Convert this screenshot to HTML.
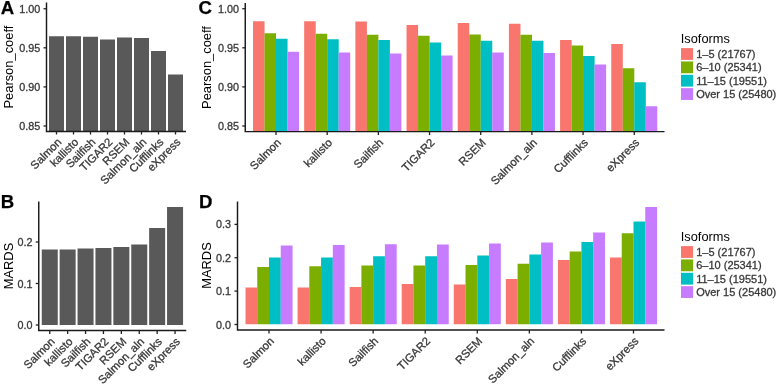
<!DOCTYPE html><html><head><meta charset="utf-8"><style>html,body{margin:0;padding:0;background:#fff;width:778px;height:384px;overflow:hidden}svg{display:block;font-family:"Liberation Sans",sans-serif;filter:blur(0.45px)}</style></head><body>
<svg width="778" height="384" viewBox="0 0 778 384">
<rect x="49" y="36.25" width="15" height="94.75" fill="#595959"/>
<rect x="66" y="36.25" width="15" height="94.75" fill="#595959"/>
<rect x="83" y="36.75" width="15" height="94.25" fill="#595959"/>
<rect x="100" y="39.5" width="15" height="91.5" fill="#595959"/>
<rect x="117" y="37.5" width="15" height="93.5" fill="#595959"/>
<rect x="134" y="38" width="15" height="93" fill="#595959"/>
<rect x="151" y="51" width="15" height="80" fill="#595959"/>
<rect x="168" y="74.5" width="15" height="56.5" fill="#595959"/>
<path d="M46.5 2.5V131.5H186" fill="none" stroke="#1a1a1a" stroke-width="1.45"/>
<path d="M43.5 8.75H46.5" stroke="#222" stroke-width="1.3"/>
<text x="40.3" y="13" text-anchor="end" font-size="10.8" fill="#383838" stroke="#383838" stroke-width="0.3">1.00</text>
<path d="M43.5 47.8H46.5" stroke="#222" stroke-width="1.3"/>
<text x="40.3" y="52" text-anchor="end" font-size="10.8" fill="#383838" stroke="#383838" stroke-width="0.3">0.95</text>
<path d="M43.5 86.9H46.5" stroke="#222" stroke-width="1.3"/>
<text x="40.3" y="91" text-anchor="end" font-size="10.8" fill="#383838" stroke="#383838" stroke-width="0.3">0.90</text>
<path d="M43.5 126H46.5" stroke="#222" stroke-width="1.3"/>
<text x="40.3" y="130" text-anchor="end" font-size="10.8" fill="#383838" stroke="#383838" stroke-width="0.3">0.85</text>
<path d="M56.5 131V134.5" stroke="#222" stroke-width="1.3"/>
<text transform="translate(62.2 142.8) rotate(-45)" text-anchor="end" font-size="11.3" fill="#383838" stroke="#383838" stroke-width="0.3">Salmon</text>
<path d="M73.5 131V134.5" stroke="#222" stroke-width="1.3"/>
<text transform="translate(79.2 142.8) rotate(-45)" text-anchor="end" font-size="11.3" fill="#383838" stroke="#383838" stroke-width="0.3">kallisto</text>
<path d="M90.5 131V134.5" stroke="#222" stroke-width="1.3"/>
<text transform="translate(96.2 142.8) rotate(-45)" text-anchor="end" font-size="11.3" fill="#383838" stroke="#383838" stroke-width="0.3">Sailfish</text>
<path d="M107.5 131V134.5" stroke="#222" stroke-width="1.3"/>
<text transform="translate(113.2 142.8) rotate(-45)" text-anchor="end" font-size="11.3" fill="#383838" stroke="#383838" stroke-width="0.3">TIGAR2</text>
<path d="M124.5 131V134.5" stroke="#222" stroke-width="1.3"/>
<text transform="translate(130.2 142.8) rotate(-45)" text-anchor="end" font-size="11.3" fill="#383838" stroke="#383838" stroke-width="0.3">RSEM</text>
<path d="M141.5 131V134.5" stroke="#222" stroke-width="1.3"/>
<text transform="translate(147.2 142.8) rotate(-45)" text-anchor="end" font-size="11.3" fill="#383838" stroke="#383838" stroke-width="0.3">Salmon_aln</text>
<path d="M158.5 131V134.5" stroke="#222" stroke-width="1.3"/>
<text transform="translate(164.2 142.8) rotate(-45)" text-anchor="end" font-size="11.3" fill="#383838" stroke="#383838" stroke-width="0.3">Cufflinks</text>
<path d="M175.5 131V134.5" stroke="#222" stroke-width="1.3"/>
<text transform="translate(181.2 142.8) rotate(-45)" text-anchor="end" font-size="11.3" fill="#383838" stroke="#383838" stroke-width="0.3">eXpress</text>
<text transform="translate(12.6 67.1) rotate(-90)" text-anchor="middle" font-size="12.9" fill="#000">Pearson_coeff</text>
<text x="0.8" y="13.6" font-size="18.6" font-weight="bold" fill="#000" stroke="#000" stroke-width="0.25">A</text>
<rect x="41.75" y="249.5" width="16" height="75.5" fill="#595959"/>
<rect x="59.65" y="249.5" width="16" height="75.5" fill="#595959"/>
<rect x="77.55" y="248.5" width="16" height="76.5" fill="#595959"/>
<rect x="95.45" y="248" width="16" height="77" fill="#595959"/>
<rect x="113.35" y="247" width="16" height="78" fill="#595959"/>
<rect x="131.25" y="244.5" width="16" height="80.5" fill="#595959"/>
<rect x="149.15" y="228" width="16" height="97" fill="#595959"/>
<rect x="167.05" y="207" width="16" height="118" fill="#595959"/>
<path d="M38.75 201.5V330.5H186.25" fill="none" stroke="#1a1a1a" stroke-width="1.45"/>
<path d="M35.75 242H38.75" stroke="#222" stroke-width="1.3"/>
<text x="32.6" y="246" text-anchor="end" font-size="10.8" fill="#383838" stroke="#383838" stroke-width="0.3">0.2</text>
<path d="M35.75 283.5H38.75" stroke="#222" stroke-width="1.3"/>
<text x="32.6" y="288" text-anchor="end" font-size="10.8" fill="#383838" stroke="#383838" stroke-width="0.3">0.1</text>
<path d="M35.75 325H38.75" stroke="#222" stroke-width="1.3"/>
<text x="32.6" y="329" text-anchor="end" font-size="10.8" fill="#383838" stroke="#383838" stroke-width="0.3">0.0</text>
<path d="M49.75 330.5V334" stroke="#222" stroke-width="1.3"/>
<text transform="translate(55.45 342.3) rotate(-45)" text-anchor="end" font-size="11.3" fill="#383838" stroke="#383838" stroke-width="0.3">Salmon</text>
<path d="M67.65 330.5V334" stroke="#222" stroke-width="1.3"/>
<text transform="translate(73.35 342.3) rotate(-45)" text-anchor="end" font-size="11.3" fill="#383838" stroke="#383838" stroke-width="0.3">kallisto</text>
<path d="M85.55 330.5V334" stroke="#222" stroke-width="1.3"/>
<text transform="translate(91.25 342.3) rotate(-45)" text-anchor="end" font-size="11.3" fill="#383838" stroke="#383838" stroke-width="0.3">Sailfish</text>
<path d="M103.45 330.5V334" stroke="#222" stroke-width="1.3"/>
<text transform="translate(109.15 342.3) rotate(-45)" text-anchor="end" font-size="11.3" fill="#383838" stroke="#383838" stroke-width="0.3">TIGAR2</text>
<path d="M121.35 330.5V334" stroke="#222" stroke-width="1.3"/>
<text transform="translate(127.05 342.3) rotate(-45)" text-anchor="end" font-size="11.3" fill="#383838" stroke="#383838" stroke-width="0.3">RSEM</text>
<path d="M139.25 330.5V334" stroke="#222" stroke-width="1.3"/>
<text transform="translate(144.95 342.3) rotate(-45)" text-anchor="end" font-size="11.3" fill="#383838" stroke="#383838" stroke-width="0.3">Salmon_aln</text>
<path d="M157.15 330.5V334" stroke="#222" stroke-width="1.3"/>
<text transform="translate(162.85 342.3) rotate(-45)" text-anchor="end" font-size="11.3" fill="#383838" stroke="#383838" stroke-width="0.3">Cufflinks</text>
<path d="M175.05 330.5V334" stroke="#222" stroke-width="1.3"/>
<text transform="translate(180.75 342.3) rotate(-45)" text-anchor="end" font-size="11.3" fill="#383838" stroke="#383838" stroke-width="0.3">eXpress</text>
<text transform="translate(12.6 266) rotate(-90)" text-anchor="middle" font-size="12.9" fill="#000">MARDS</text>
<text x="0.8" y="208.2" font-size="18.6" font-weight="bold" fill="#000" stroke="#000" stroke-width="0.25">B</text>
<rect x="253" y="21.25" width="11.55" height="110.25" fill="#F8766D"/>
<rect x="264.5" y="33.25" width="11.55" height="98.25" fill="#7CAE00"/>
<rect x="276" y="38.75" width="11.55" height="92.75" fill="#00BFC4"/>
<rect x="287.5" y="51.75" width="11.55" height="79.75" fill="#C77CFF"/>
<rect x="304.18" y="21.25" width="11.55" height="110.25" fill="#F8766D"/>
<rect x="315.68" y="33.75" width="11.55" height="97.75" fill="#7CAE00"/>
<rect x="327.18" y="39.25" width="11.55" height="92.25" fill="#00BFC4"/>
<rect x="338.68" y="52.5" width="11.55" height="79" fill="#C77CFF"/>
<rect x="355.36" y="21.5" width="11.55" height="110" fill="#F8766D"/>
<rect x="366.86" y="34.75" width="11.55" height="96.75" fill="#7CAE00"/>
<rect x="378.36" y="40" width="11.55" height="91.5" fill="#00BFC4"/>
<rect x="389.86" y="53.5" width="11.55" height="78" fill="#C77CFF"/>
<rect x="406.54" y="25" width="11.55" height="106.5" fill="#F8766D"/>
<rect x="418.04" y="35.75" width="11.55" height="95.75" fill="#7CAE00"/>
<rect x="429.54" y="42.5" width="11.55" height="89" fill="#00BFC4"/>
<rect x="441.04" y="55.5" width="11.55" height="76" fill="#C77CFF"/>
<rect x="457.72" y="23" width="11.55" height="108.5" fill="#F8766D"/>
<rect x="469.22" y="34.5" width="11.55" height="97" fill="#7CAE00"/>
<rect x="480.72" y="40.75" width="11.55" height="90.75" fill="#00BFC4"/>
<rect x="492.22" y="52.5" width="11.55" height="79" fill="#C77CFF"/>
<rect x="508.9" y="23.75" width="11.55" height="107.75" fill="#F8766D"/>
<rect x="520.4" y="34.75" width="11.55" height="96.75" fill="#7CAE00"/>
<rect x="531.9" y="40.75" width="11.55" height="90.75" fill="#00BFC4"/>
<rect x="543.4" y="53" width="11.55" height="78.5" fill="#C77CFF"/>
<rect x="560.08" y="40" width="11.55" height="91.5" fill="#F8766D"/>
<rect x="571.58" y="45.5" width="11.55" height="86" fill="#7CAE00"/>
<rect x="583.08" y="56" width="11.55" height="75.5" fill="#00BFC4"/>
<rect x="594.58" y="64.5" width="11.55" height="67" fill="#C77CFF"/>
<rect x="611.26" y="44" width="11.55" height="87.5" fill="#F8766D"/>
<rect x="622.76" y="68.25" width="11.55" height="63.25" fill="#7CAE00"/>
<rect x="634.26" y="82.25" width="11.55" height="49.25" fill="#00BFC4"/>
<rect x="645.76" y="106.25" width="11.55" height="25.25" fill="#C77CFF"/>
<path d="M245.25 3V131.6H664.5" fill="none" stroke="#1a1a1a" stroke-width="1.45"/>
<path d="M242.25 8.75H245.25" stroke="#222" stroke-width="1.3"/>
<text x="239" y="13" text-anchor="end" font-size="10.8" fill="#383838" stroke="#383838" stroke-width="0.3">1.00</text>
<path d="M242.25 47.8H245.25" stroke="#222" stroke-width="1.3"/>
<text x="239" y="52" text-anchor="end" font-size="10.8" fill="#383838" stroke="#383838" stroke-width="0.3">0.95</text>
<path d="M242.25 86.9H245.25" stroke="#222" stroke-width="1.3"/>
<text x="239" y="91" text-anchor="end" font-size="10.8" fill="#383838" stroke="#383838" stroke-width="0.3">0.90</text>
<path d="M242.25 126H245.25" stroke="#222" stroke-width="1.3"/>
<text x="239" y="130" text-anchor="end" font-size="10.8" fill="#383838" stroke="#383838" stroke-width="0.3">0.85</text>
<path d="M276 131.5V135" stroke="#222" stroke-width="1.3"/>
<text transform="translate(281.7 143.3) rotate(-45)" text-anchor="end" font-size="11.3" fill="#383838" stroke="#383838" stroke-width="0.3">Salmon</text>
<path d="M327.18 131.5V135" stroke="#222" stroke-width="1.3"/>
<text transform="translate(332.88 143.3) rotate(-45)" text-anchor="end" font-size="11.3" fill="#383838" stroke="#383838" stroke-width="0.3">kallisto</text>
<path d="M378.36 131.5V135" stroke="#222" stroke-width="1.3"/>
<text transform="translate(384.06 143.3) rotate(-45)" text-anchor="end" font-size="11.3" fill="#383838" stroke="#383838" stroke-width="0.3">Sailfish</text>
<path d="M429.54 131.5V135" stroke="#222" stroke-width="1.3"/>
<text transform="translate(435.24 143.3) rotate(-45)" text-anchor="end" font-size="11.3" fill="#383838" stroke="#383838" stroke-width="0.3">TIGAR2</text>
<path d="M480.72 131.5V135" stroke="#222" stroke-width="1.3"/>
<text transform="translate(486.42 143.3) rotate(-45)" text-anchor="end" font-size="11.3" fill="#383838" stroke="#383838" stroke-width="0.3">RSEM</text>
<path d="M531.9 131.5V135" stroke="#222" stroke-width="1.3"/>
<text transform="translate(537.6 143.3) rotate(-45)" text-anchor="end" font-size="11.3" fill="#383838" stroke="#383838" stroke-width="0.3">Salmon_aln</text>
<path d="M583.08 131.5V135" stroke="#222" stroke-width="1.3"/>
<text transform="translate(588.78 143.3) rotate(-45)" text-anchor="end" font-size="11.3" fill="#383838" stroke="#383838" stroke-width="0.3">Cufflinks</text>
<path d="M634.26 131.5V135" stroke="#222" stroke-width="1.3"/>
<text transform="translate(639.96 143.3) rotate(-45)" text-anchor="end" font-size="11.3" fill="#383838" stroke="#383838" stroke-width="0.3">eXpress</text>
<text transform="translate(210.6 67.5) rotate(-90)" text-anchor="middle" font-size="12.9" fill="#000">Pearson_coeff</text>
<text x="198.5" y="13.6" font-size="18.6" font-weight="bold" fill="#000" stroke="#000" stroke-width="0.25">C</text>
<text x="680.8" y="43" font-size="12.8" fill="#000">Isoforms</text>
<rect x="681" y="48.1" width="12.1" height="11.8" fill="#F8766D"/>
<text x="696.2" y="58" font-size="11.0" fill="#383838" stroke="#383838" stroke-width="0.3">1–5 (21767)</text>
<rect x="681" y="61.45" width="12.1" height="11.8" fill="#7CAE00"/>
<text x="696.2" y="71" font-size="11.0" fill="#383838" stroke="#383838" stroke-width="0.3">6–10 (25341)</text>
<rect x="681" y="74.8" width="12.1" height="11.8" fill="#00BFC4"/>
<text x="696.2" y="85" font-size="11.0" fill="#383838" stroke="#383838" stroke-width="0.3">11–15 (19551)</text>
<rect x="681" y="88.15" width="12.1" height="11.8" fill="#C77CFF"/>
<text x="696.2" y="98" font-size="11.0" fill="#383838" stroke="#383838" stroke-width="0.3">Over 15 (25480)</text>
<rect x="245.5" y="287.5" width="11.8" height="36.75" fill="#F8766D"/>
<rect x="257.25" y="267" width="11.8" height="57.25" fill="#7CAE00"/>
<rect x="269" y="257.5" width="11.8" height="66.75" fill="#00BFC4"/>
<rect x="280.75" y="245.5" width="11.8" height="78.75" fill="#C77CFF"/>
<rect x="297.57" y="287.5" width="11.8" height="36.75" fill="#F8766D"/>
<rect x="309.32" y="266.25" width="11.8" height="58" fill="#7CAE00"/>
<rect x="321.07" y="257.5" width="11.8" height="66.75" fill="#00BFC4"/>
<rect x="332.82" y="245" width="11.8" height="79.25" fill="#C77CFF"/>
<rect x="349.64" y="287" width="11.8" height="37.25" fill="#F8766D"/>
<rect x="361.39" y="265.5" width="11.8" height="58.75" fill="#7CAE00"/>
<rect x="373.14" y="256.25" width="11.8" height="68" fill="#00BFC4"/>
<rect x="384.89" y="244.25" width="11.8" height="80" fill="#C77CFF"/>
<rect x="401.71" y="284" width="11.8" height="40.25" fill="#F8766D"/>
<rect x="413.46" y="265.5" width="11.8" height="58.75" fill="#7CAE00"/>
<rect x="425.21" y="256.25" width="11.8" height="68" fill="#00BFC4"/>
<rect x="436.96" y="244.5" width="11.8" height="79.75" fill="#C77CFF"/>
<rect x="453.78" y="284.5" width="11.8" height="39.75" fill="#F8766D"/>
<rect x="465.53" y="265" width="11.8" height="59.25" fill="#7CAE00"/>
<rect x="477.28" y="255.5" width="11.8" height="68.75" fill="#00BFC4"/>
<rect x="489.03" y="243.5" width="11.8" height="80.75" fill="#C77CFF"/>
<rect x="505.85" y="279" width="11.8" height="45.25" fill="#F8766D"/>
<rect x="517.6" y="263.75" width="11.8" height="60.5" fill="#7CAE00"/>
<rect x="529.35" y="254.5" width="11.8" height="69.75" fill="#00BFC4"/>
<rect x="541.1" y="242.5" width="11.8" height="81.75" fill="#C77CFF"/>
<rect x="557.92" y="260" width="11.8" height="64.25" fill="#F8766D"/>
<rect x="569.67" y="251.5" width="11.8" height="72.75" fill="#7CAE00"/>
<rect x="581.42" y="242" width="11.8" height="82.25" fill="#00BFC4"/>
<rect x="593.17" y="232.5" width="11.8" height="91.75" fill="#C77CFF"/>
<rect x="609.99" y="257.5" width="11.8" height="66.75" fill="#F8766D"/>
<rect x="621.74" y="233.25" width="11.8" height="91" fill="#7CAE00"/>
<rect x="633.49" y="221.5" width="11.8" height="102.75" fill="#00BFC4"/>
<rect x="645.24" y="207" width="11.8" height="117.25" fill="#C77CFF"/>
<path d="M237.5 201.5V330H664.5" fill="none" stroke="#1a1a1a" stroke-width="1.45"/>
<path d="M234.5 224.4H237.5" stroke="#222" stroke-width="1.3"/>
<text x="231.1" y="228" text-anchor="end" font-size="10.8" fill="#383838" stroke="#383838" stroke-width="0.3">0.3</text>
<path d="M234.5 257.75H237.5" stroke="#222" stroke-width="1.3"/>
<text x="231.1" y="262" text-anchor="end" font-size="10.8" fill="#383838" stroke="#383838" stroke-width="0.3">0.2</text>
<path d="M234.5 291.1H237.5" stroke="#222" stroke-width="1.3"/>
<text x="231.1" y="295" text-anchor="end" font-size="10.8" fill="#383838" stroke="#383838" stroke-width="0.3">0.1</text>
<path d="M234.5 324.5H237.5" stroke="#222" stroke-width="1.3"/>
<text x="231.1" y="329" text-anchor="end" font-size="10.8" fill="#383838" stroke="#383838" stroke-width="0.3">0.0</text>
<path d="M269 330V333.5" stroke="#222" stroke-width="1.3"/>
<text transform="translate(274.7 341.8) rotate(-45)" text-anchor="end" font-size="11.3" fill="#383838" stroke="#383838" stroke-width="0.3">Salmon</text>
<path d="M321.07 330V333.5" stroke="#222" stroke-width="1.3"/>
<text transform="translate(326.77 341.8) rotate(-45)" text-anchor="end" font-size="11.3" fill="#383838" stroke="#383838" stroke-width="0.3">kallisto</text>
<path d="M373.14 330V333.5" stroke="#222" stroke-width="1.3"/>
<text transform="translate(378.84 341.8) rotate(-45)" text-anchor="end" font-size="11.3" fill="#383838" stroke="#383838" stroke-width="0.3">Sailfish</text>
<path d="M425.21 330V333.5" stroke="#222" stroke-width="1.3"/>
<text transform="translate(430.91 341.8) rotate(-45)" text-anchor="end" font-size="11.3" fill="#383838" stroke="#383838" stroke-width="0.3">TIGAR2</text>
<path d="M477.28 330V333.5" stroke="#222" stroke-width="1.3"/>
<text transform="translate(482.98 341.8) rotate(-45)" text-anchor="end" font-size="11.3" fill="#383838" stroke="#383838" stroke-width="0.3">RSEM</text>
<path d="M529.35 330V333.5" stroke="#222" stroke-width="1.3"/>
<text transform="translate(535.05 341.8) rotate(-45)" text-anchor="end" font-size="11.3" fill="#383838" stroke="#383838" stroke-width="0.3">Salmon_aln</text>
<path d="M581.42 330V333.5" stroke="#222" stroke-width="1.3"/>
<text transform="translate(587.12 341.8) rotate(-45)" text-anchor="end" font-size="11.3" fill="#383838" stroke="#383838" stroke-width="0.3">Cufflinks</text>
<path d="M633.49 330V333.5" stroke="#222" stroke-width="1.3"/>
<text transform="translate(639.19 341.8) rotate(-45)" text-anchor="end" font-size="11.3" fill="#383838" stroke="#383838" stroke-width="0.3">eXpress</text>
<text transform="translate(210.6 265.5) rotate(-90)" text-anchor="middle" font-size="12.9" fill="#000">MARDS</text>
<text x="198.9" y="208.1" font-size="18.6" font-weight="bold" fill="#000" stroke="#000" stroke-width="0.25">D</text>
<text x="680.8" y="241" font-size="12.8" fill="#000">Isoforms</text>
<rect x="681" y="246.1" width="12.1" height="11.8" fill="#F8766D"/>
<text x="696.2" y="256" font-size="11.0" fill="#383838" stroke="#383838" stroke-width="0.3">1–5 (21767)</text>
<rect x="681" y="259.45" width="12.1" height="11.8" fill="#7CAE00"/>
<text x="696.2" y="269" font-size="11.0" fill="#383838" stroke="#383838" stroke-width="0.3">6–10 (25341)</text>
<rect x="681" y="272.8" width="12.1" height="11.8" fill="#00BFC4"/>
<text x="696.2" y="283" font-size="11.0" fill="#383838" stroke="#383838" stroke-width="0.3">11–15 (19551)</text>
<rect x="681" y="286.15" width="12.1" height="11.8" fill="#C77CFF"/>
<text x="696.2" y="296" font-size="11.0" fill="#383838" stroke="#383838" stroke-width="0.3">Over 15 (25480)</text>
</svg></body></html>
